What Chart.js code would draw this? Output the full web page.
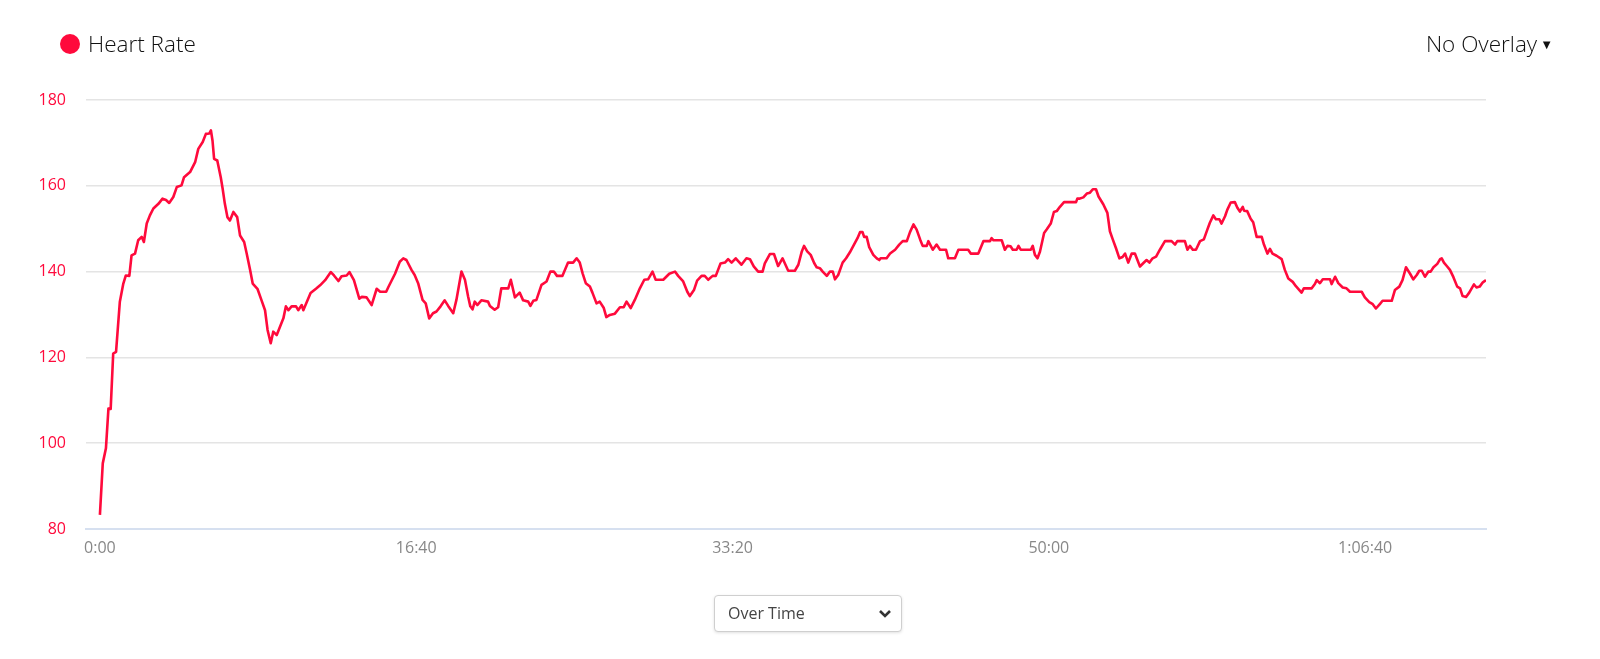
<!DOCTYPE html>
<html>
<head>
<meta charset="utf-8">
<script src="https://cdn.jsdelivr.net/npm/chart.js@4.4.1/dist/chart.umd.min.js"></script>
<style>
  html, body { margin: 0; padding: 0; background: #fff; }
  body { width: 1600px; height: 659px; position: relative; overflow: hidden; font-family: "Open Sans", sans-serif; }
  #chart { position: absolute; left: 0; top: 0; }
  .legend { position: absolute; left: 60px; top: 32px; height: 23px; line-height: 23px; font-size: 22.5px; font-weight: 300; color: #111; display: flex; align-items: center; }
  .legend .dot { width: 20px; height: 20px; border-radius: 50%; background: #ff0a3c; margin-right: 8px; }
  .overlay { position: absolute; right: 47px; top: 32px; line-height: 23px; font-size: 22.5px; font-weight: 300; color: #111; }
  .overlay .tri { font-size: 13px; position: relative; top: -3px; margin-left: 3px; font-weight: 400; }
  .select { position: absolute; left: 714px; top: 595px; width: 186px; height: 35px; border: 1px solid #cfcfcf; border-radius: 4px; box-shadow: 0 1px 3px rgba(0,0,0,0.12); background: #fff; }
  .select span { position: absolute; left: 13px; top: 7px; font-size: 16px; color: #444; line-height: 20px; }
  .select svg { position: absolute; right: 9px; top: 13px; }
</style>
</head>
<body>
<canvas id="chart" width="1600" height="659"></canvas>
<div class="legend"><div class="dot"></div><span>Heart Rate</span></div>
<div class="overlay">No Overlay<span class="tri">▼</span></div>
<div class="select"><span>Over Time</span>
  <svg width="14" height="10" viewBox="0 0 14 10"><polyline points="2,2 7,7 12,2" fill="none" stroke="#333" stroke-width="2.6"/></svg>
</div>
<script>
// Elapsed time in seconds
const seconds = [0,9,19,27,34,42,51,63,74,82,93,100,111,121,132,139,148,158,169,185,198,209,219,232,243,258,266,285,301,311,325,335,346,351,356,361,371,382,388,395,403,411,422,434,443,456,464,475,483,498,511,522,530,540,548,559,569,580,588,596,606,620,627,638,643,654,666,683,696,712,730,740,754,764,780,789,803,820,828,843,859,875,886,905,912,933,
948,959,969,985,995,1006,1020,1030,1041,1053,1064,1077,1090,1101,1117,1127,1143,1154,1164,1171,1178,1185,1193,1206,1227,1233,1248,1259,1269,1291,1299,1312,1327,1338,1354,1361,1370,1380,1396,1412,1424,1435,1445,1462,1480,1496,1507,1517,1526,1536,1549,1557,1570,1580,1593,1601,1612,1628,1644,1656,1665,1678,1691,1707,1721,1733,1747,1757,1781,1800,1818,1828,1844,1857,1865,1878,1888,1902,1912,1923,1937,1947,1962,1976,1986,1997,2010,2028,2044,2055,2067,2081,2095,2102,2118,2131,2144,2158,2176,2197,
2208,2219,2226,2236,2247,2258,2266,2276,2285,2298,2308,2317,2324,2334,2348,2359,2371,2384,2395,2403,2411,2416,2424,2432,2445,2456,2464,2468,2487,2498,2514,2527,2538,2551,2561,2572,2582,2593,2601,2614,2619,2633,2645,2656,2675,2682,2703,2714,2745,2753,2777,2793,2814,2819,2825,2851,2861,2869,2879,2886,2898,2904,2911,2943,2949,2956,2964,2972,2985,2993,3006,3016,3025,3035,3048,3067,3086,3090,3096,3109,3120,3130,3139,3149,3157,
3172,3185,3193,3202,3212,3223,3233,3241,3251,3262,3272,3288,3299,3309,3318,3328,3339,3351,3367,3388,3399,3406,3430,3438,3446,3455,3465,3478,3490,3501,3509,3520,3528,3539,3546,3557,3564,3575,3588,3596,3604,3613,3617,3627,3638,3646,3657,3673,3680,3691,3699,3707,3720,3736,3746,3757,3771,3781,3792,3799,3806,3815,3831,3841,3847,3857,3866,3889,3894,3905,3915,3929,3941,3952,3989,3999,4013,4024,4034,4047,4055,4084,4094,4108,4118,4129,4142,4152,4163,4171,4179,4189,4200,4207,4216,4228,4237,4242,4249,4258,4268,4279,4291,4300,4308,4319,4329,4344,4352,4362,4372,4382];

// Heart rate (bpm)
const heartRate = [83.3,95.3,98.8,108.1,108,120.9,121.3,133,137.2,139.1,139,143.8,144.2,147.3,148.1,146.9,151.2,153.1,154.7,155.8,157,156.7,156,157.4,159.7,160.1,162,163.2,165.5,168.6,170.2,172.1,172.2,172.9,170.5,166.3,165.9,162,159.3,155.8,152.7,151.9,153.9,152.7,148.4,146.9,144.2,140.3,137.2,136,133.3,131,126.4,123.3,126,125.2,127.1,129.1,131.9,131,131.9,131.9,131,132.2,131,132.9,135,136,136.8,138,139.9,139.1,137.8,138.9,139.1,139.9,138,133.7,134.1,134,132.2,136,135.3,135.3,136.4,139.5,
142.3,143.1,142.7,140.4,139.2,137.3,133.4,132.6,129.1,130.3,130.7,131.9,133.3,132,130.3,133.4,140,138.1,134.2,131.9,131.2,133,132.2,133.3,133,132,131.1,131.7,136.1,136.1,138.1,134,135.1,133.3,133,132,133.2,133.4,136.9,137.7,140,140,139,139,142.1,142.1,143.1,142.1,139.6,137.3,136.5,135.1,132.6,133,131.5,129.4,129.9,130.2,131.7,131.7,133,131.5,133.4,136.1,138.1,138.2,140,138.1,138.1,139.5,140,139,137.7,135.3,134.3,135.7,137.9,139,139,138.1,139,139,141.9,142.1,142.9,142.1,143.1,141.6,143.1,142.9,141.2,140,140,141.9,144.1,144.1,141.3,143.1,140.2,140.2,
141.6,144.7,146,144.7,143.9,142,141,140.8,140,139,140,140,138.2,139.2,142.1,143.1,144.5,146.3,147.8,149.2,149.2,148.1,148.1,145.7,143.9,143.1,142.7,143.1,143.1,144.2,145.1,146.3,147.1,147.1,149.2,151,149.8,147.5,146,146,147.1,145.1,146.3,145.1,145.1,143.1,143.1,145.1,145.1,144.2,144.2,147.1,147.1,147.8,147.3,147.3,145.1,146,145.9,145.1,145.1,146,145.1,145.1,146,143.9,143.1,144.7,149,149.8,151.2,153.9,154.1,155.1,156.2,156.2,156.2,157,157,157.3,158.2,158.4,159.2,159.2,157.5,
155.7,153.7,149.4,147.5,145.5,143.1,143.4,144.2,142.1,144.2,144.2,141.2,142,142.7,142.1,143.1,143.5,145.1,147.1,147.1,146.3,147.1,147.1,145.1,146,145.1,145.1,147.1,147.5,149.8,151.4,153.1,152.2,152.2,151.2,152.9,154.4,156.1,156.2,154.9,154,155.1,154.2,154.1,152.3,151.5,148.1,148.1,146.3,144.2,145.3,144.2,143.7,142.9,140.4,138.4,137.6,136.6,135.7,135.1,136.1,136.1,136.1,137.1,138,137.3,138.2,138.2,137.1,138.8,137.3,136.3,136.1,135.3,135.3,134,132.9,132.4,131.4,132.5,133.2,133.2,135.7,136.5,138,141,139.5,138.2,139.2,140.2,140.2,138.8,140,140,141,141.8,142.9,143.1,142.1,141.3,140.4,138.7,136.5,136.1,134.3,134.1,135.1,137,136.3,136.5,137.5,138];

// X tick positions (seconds) and y tick values
const timeTicks = [0, 1000, 2000, 3000, 4000];
const hrTicks = [80, 100, 120, 140, 160, 180];

function fmtTime(s) {
  const h = Math.floor(s / 3600);
  const m = Math.floor((s % 3600) / 60);
  const sec = Math.round(s % 60);
  const ss = String(sec).padStart(2, '0');
  if (h > 0) return h + ':' + String(m).padStart(2, '0') + ':' + ss;
  return m + ':' + ss;
}

const points = seconds.map((s, i) => ({ x: s, y: heartRate[i] }));
const RED = '#ff0a3c';

new Chart(document.getElementById('chart'), {
  type: 'line',
  data: {
    datasets: [{
      label: 'Heart Rate',
      data: points,
      borderColor: RED,
      borderWidth: 2.6,
      pointRadius: 0,
      tension: 0,
      fill: false,
      borderJoinStyle: 'round'
    }]
  },
  options: {
    responsive: false,
    animation: false,
    devicePixelRatio: 1,
    layout: { padding: { top: 100, right: 114, bottom: 90, left: 0 } },
    plugins: { legend: { display: false }, tooltip: { enabled: false } },
    scales: {
      x: {
        type: 'linear',
        min: -44,
        max: 4382,
        afterFit: (s) => { s.height = 40; },
        afterBuildTicks: (s) => { s.ticks = timeTicks.map(v => ({ value: v })); },
        grid: { display: false, drawTicks: false },
        border: { display: true, color: '#d6e0f0', width: 2 },
        ticks: {
          padding: 10,
          color: '#888888',
          font: { family: 'Open Sans', size: 16 },
          maxRotation: 0,
          callback: (v) => fmtTime(v)
        }
      },
      y: {
        min: 80,
        max: 180,
        afterFit: (s) => { s.width = 86; },
        afterBuildTicks: (s) => { s.ticks = hrTicks.map(v => ({ value: v })); },
        grid: {
          drawTicks: false,
          lineWidth: 1.5,
          color: (c) => (c.tick && c.tick.value === 80) ? 'rgba(0,0,0,0)' : '#e4e4e4'
        },
        border: { display: false },
        ticks: {
          padding: 20,
          color: RED,
          font: { family: 'Open Sans', size: 16 }
        }
      }
    }
  }
});
</script>
</body>
</html>
